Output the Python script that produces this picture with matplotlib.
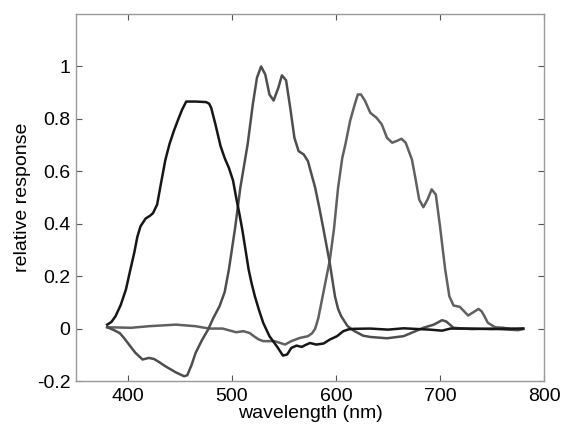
import matplotlib
matplotlib.use("Agg")
import matplotlib.pyplot as plt

# black curve (short-wavelength channel)
wl_b = [380, 384, 388, 393, 398, 402, 406, 409, 412, 417, 421, 424, 428, 432, 436,
        440, 444, 448, 452, 456, 465, 475, 478, 480, 484, 489, 493, 497, 501, 504,
        507, 510, 513, 516, 519, 522, 526, 530, 536, 543, 549, 553, 557, 562, 567,
        571, 575, 581, 588, 594, 601, 607, 612, 617, 633, 650, 665, 680, 690, 702,
        710, 730, 750, 765, 780]
val_b = [0.015, 0.025, 0.047, 0.09, 0.149, 0.22, 0.289, 0.35, 0.39, 0.42, 0.43,
         0.44, 0.473, 0.56, 0.645, 0.705, 0.753, 0.795, 0.835, 0.866, 0.866, 0.864,
         0.858, 0.842, 0.78, 0.696, 0.65, 0.613, 0.565, 0.50, 0.44, 0.375, 0.30,
         0.225, 0.17, 0.123, 0.07, 0.022, -0.029, -0.067, -0.103, -0.099, -0.074,
         -0.065, -0.07, -0.062, -0.055, -0.061, -0.057, -0.042, -0.029, -0.01,
         -0.003, -0.001, 0.0, -0.004, 0.001, -0.002, -0.004, -0.008, 0.0, 0.0,
         -0.002, 0.0, 0.0]

# dark grey curve (middle-wavelength channel)
wl_g = [380, 386, 392, 396, 401, 407, 414, 420, 425, 430, 436, 446, 454, 457, 461,
        465, 471, 477, 482, 488, 493, 497, 503, 508, 515, 520, 524, 528, 532, 536,
        540, 544.5, 548, 552, 556, 560, 564, 569, 573, 576, 580, 584, 588, 594, 599,
        602, 605, 611, 617, 626, 633, 649, 665, 674, 684, 694, 702, 706, 713, 730,
        750, 765, 775, 780]
val_g = [0.005, -0.005, -0.017, -0.035, -0.061, -0.092, -0.118, -0.112, -0.116,
         -0.128, -0.144, -0.167, -0.182, -0.178, -0.14, -0.093, -0.045, -0.004,
         0.04, 0.085, 0.14, 0.225, 0.384, 0.537, 0.702, 0.855, 0.957, 1.0, 0.969,
         0.893, 0.870, 0.918, 0.966, 0.947, 0.842, 0.728, 0.677, 0.664, 0.639, 0.595,
         0.537, 0.46, 0.378, 0.25, 0.123, 0.075, 0.047, 0.01, -0.008, -0.027,
         -0.032, -0.037, -0.029, -0.014, 0.003, 0.015, 0.032, 0.027, 0.003, -0.002,
         0.0, -0.004, -0.006, -0.002]

# grey curve (long-wavelength channel)
wl_r = [380, 403, 420, 446, 465, 478, 491, 504, 511, 517, 521, 525, 530, 541, 551,
        557, 565, 573, 577, 580, 583, 586, 590, 594, 598, 602, 606, 609, 613.5, 618,
        621, 624, 628, 633, 639, 644, 649, 654, 658, 663, 667, 673, 676, 680, 684,
        688, 692, 696, 700, 705, 709, 713, 719, 727, 732, 737, 740, 743, 746, 753,
        761, 770, 780]
val_r = [0.005, 0.003, 0.009, 0.015, 0.009, 0.0, 0.0, -0.014, -0.01, -0.017,
         -0.029, -0.04, -0.048, -0.048, -0.061, -0.048, -0.036, -0.029, -0.018,
         0.0, 0.04, 0.1, 0.18, 0.26, 0.378, 0.537, 0.65, 0.702, 0.791, 0.855, 0.893,
         0.893, 0.868, 0.823, 0.804, 0.779, 0.728, 0.709, 0.715, 0.724, 0.709,
         0.645, 0.581, 0.492, 0.463, 0.492, 0.531, 0.511, 0.39, 0.225, 0.123, 0.088,
         0.083, 0.05, 0.062, 0.075, 0.066, 0.045, 0.022, 0.005, 0.003, -0.004, 0.0]

x_ticks = [400, 500, 600, 700, 800]
y_ticks = [-0.2, 0, 0.2, 0.4, 0.6, 0.8, 1]
y_ticklabels = ["-0.2", "0", "0.2", "0.4", "0.6", "0.8", "1"]

plt.rcParams['font.family'] = ['Liberation Sans', 'DejaVu Sans']

fig = plt.figure(figsize=(5.78, 4.28), dpi=100)
ax = fig.add_axes([76/578, 47/428, 468/578, 367/428])

ax.plot(wl_r, val_r, color="#606060", lw=1.8)
ax.plot(wl_g, val_g, color="#4e4e4e", lw=1.8)
ax.plot(wl_b, val_b, color="#161616", lw=1.8)

ax.set_xlim(350, 800)
ax.set_ylim(-0.2, 1.2)
ax.set_xticks(x_ticks)
ax.set_xticklabels([str(t) for t in x_ticks])
ax.set_yticks(y_ticks)
ax.set_yticklabels(y_ticklabels)
ax.tick_params(direction="in", top=True, right=True, length=4, width=0.8,
               color="#555555", labelsize=14)
ax.tick_params(axis="x", pad=5)
ax.tick_params(axis="y", pad=4)
for s in ax.spines.values():
    s.set_color("#999999")
    s.set_linewidth(1.0)
ax.set_xlabel("wavelength (nm)", fontsize=14, labelpad=0)
ax.set_ylabel("relative response", fontsize=14, labelpad=4)

fig.savefig("out.png", dpi=100)
